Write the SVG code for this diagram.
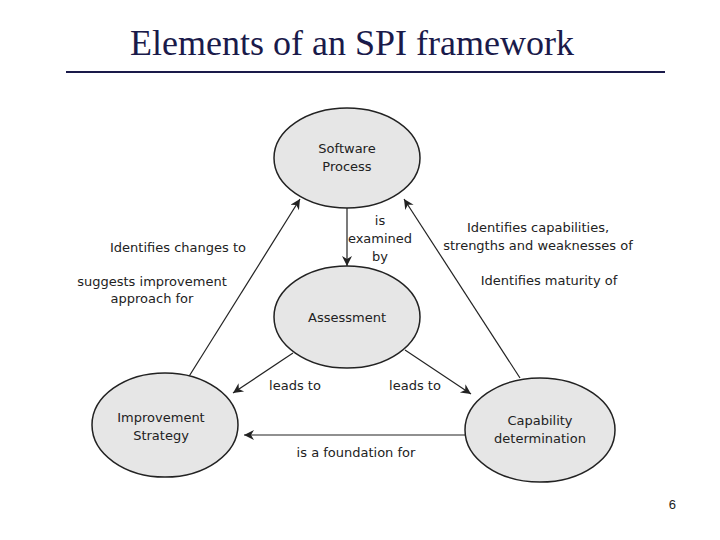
<svg xmlns="http://www.w3.org/2000/svg" width="720" height="540" viewBox="0 0 720 540">
<style>
.n{fill:#e6e6e6;stroke:#222;stroke-width:1.5}
.t{font-family:"DejaVu Sans",sans-serif;font-size:13px;fill:#222;text-anchor:middle}
.c{stroke:#222;stroke-width:1.2;fill:none;marker-end:url(#a)}
</style>
<defs><marker id="a" viewBox="0 0 10 10" refX="10" refY="5" markerWidth="12" markerHeight="10" markerUnits="userSpaceOnUse" orient="auto"><path d="M0,0L10,5L0,10L3,5Z" fill="#222"/></marker></defs>
<rect width="720" height="540" fill="#fff"/>
<text x="352" y="55" font-family="'Liberation Serif',serif" font-size="36" fill="#1a1a4a" text-anchor="middle">Elements of an SPI framework</text>
<line x1="66" y1="72" x2="665" y2="72" stroke="#1a1a4a" stroke-width="2"/>
<g id="connectors">
<path class="c" d="M347,208V266"/>
<path class="c" d="M188,378L300,199"/>
<path class="c" d="M520,378L404,199"/>
<path class="c" d="M293,353L233,393"/>
<path class="c" d="M405,350L471,394"/>
<path class="c" d="M466,435H244"/>
</g>
<g id="sp"><ellipse class="n" cx="347" cy="158" rx="73" ry="50"/><text class="t" x="347" y="153">Software</text><text class="t" x="347" y="171">Process</text></g>
<g id="as"><ellipse class="n" cx="347" cy="317" rx="73" ry="51"/><text class="t" x="347" y="322">Assessment</text></g>
<g id="is"><ellipse class="n" cx="165" cy="425" rx="73" ry="52"/><text class="t" x="161" y="422">Improvement</text><text class="t" x="161" y="440">Strategy</text></g>
<g id="cd"><ellipse class="n" cx="540" cy="430" rx="75" ry="52"/><text class="t" x="540" y="425">Capability</text><text class="t" x="540" y="443">determination</text></g>
<g id="labels">
<text class="t" x="380" y="225">is</text><text class="t" x="380" y="243">examined</text><text class="t" x="380" y="261">by</text>
<text class="t" x="178" y="252">Identifies changes to</text>
<text class="t" x="152" y="286">suggests improvement</text><text class="t" x="152" y="303">approach for</text>
<text class="t" x="538" y="232">Identifies capabilities,</text><text class="t" x="538" y="250">strengths and weaknesses of</text>
<text class="t" x="549" y="285">Identifies maturity of</text>
<text class="t" x="295" y="390">leads to</text><text class="t" x="415" y="390">leads to</text>
<text class="t" x="356" y="457">is a foundation for</text>
<text x="676" y="509" font-family="'Liberation Sans',sans-serif" font-size="13" fill="#222" text-anchor="end">6</text>
</g>
</svg>
